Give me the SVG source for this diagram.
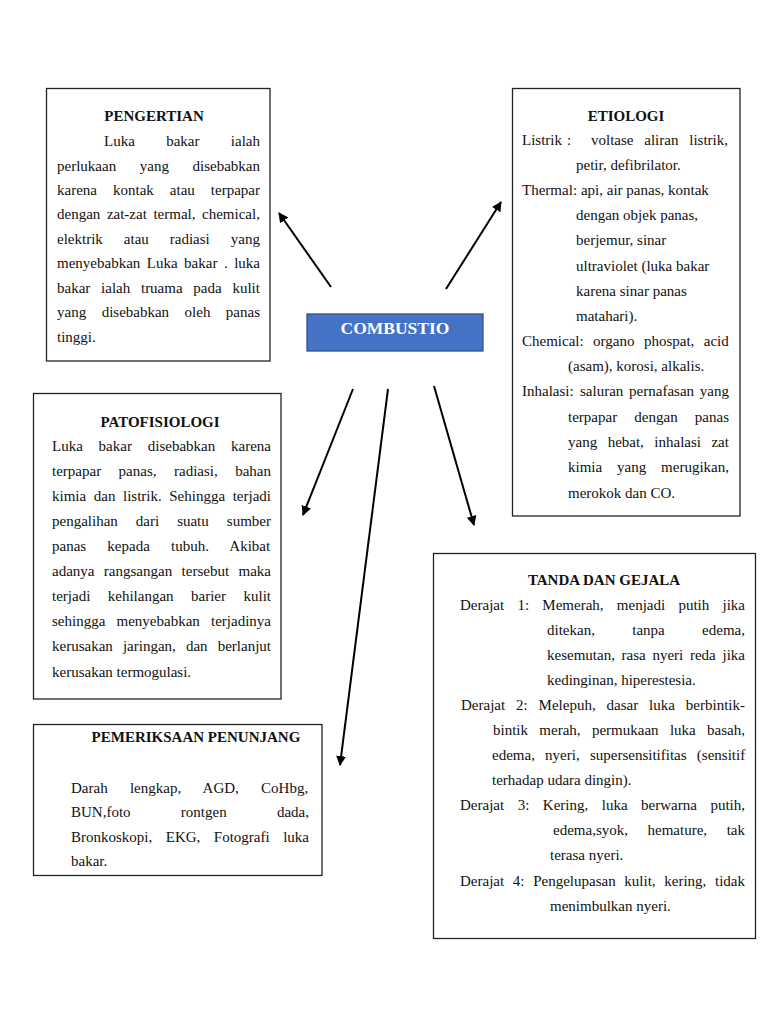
<svg xmlns="http://www.w3.org/2000/svg" width="768" height="1024" viewBox="0 0 768 1024">
<style>
.box{fill:#fff;stroke:#222;stroke-width:1.3}
.t{font-family:"Liberation Serif","Times New Roman",serif;font-size:15px;fill:#111}
.h{font-family:"Liberation Serif","Times New Roman",serif;font-size:15px;font-weight:bold;fill:#111;text-anchor:middle}
.c{stroke:#000;stroke-width:2;fill:none;marker-end:url(#ah)}
</style>
<defs>
<marker id="ah" viewBox="0 0 10 10" refX="9" refY="5" markerWidth="5" markerHeight="5" orient="auto" markerUnits="strokeWidth">
<path d="M0,0 L10,5 L0,10 z" fill="#000"/>
</marker>
</defs>
<rect width="768" height="1024" fill="#fff"/>

<g id="connectors">
<line class="c" x1="331" y1="287" x2="279" y2="213"/>
<line class="c" x1="446" y1="289" x2="501" y2="202"/>
<line class="c" x1="353" y1="389" x2="303" y2="515"/>
<line class="c" x1="388" y1="389" x2="340" y2="765"/>
<line class="c" x1="434" y1="386" x2="474" y2="525"/>
</g>

<g id="combustio">
<rect x="307" y="314" width="176" height="37" fill="#4472C4" stroke="#2F528F" stroke-width="1.3"/>
<text x="395" y="334" style="font-family:'Liberation Serif','Times New Roman',serif;font-size:17.5px;font-weight:bold;fill:#fff;text-anchor:middle">COMBUSTIO</text>
</g>

<g id="pengertian">
<rect class="box" x="46.5" y="88.5" width="223.5" height="272.5"/>
<text class="h" x="154" y="121">PENGERTIAN</text>
<text class="t" x="104" y="146" style="word-spacing:27.6px">Luka bakar ialah</text>
<text class="t" x="57" y="171" style="word-spacing:19.85px">perlukaan yang disebabkan</text>
<text class="t" x="57" y="195" style="word-spacing:12.28px">karena kontak atau terpapar</text>
<text class="t" x="57" y="219" style="word-spacing:2.82px">dengan zat-zat termal, chemical,</text>
<text class="t" x="57" y="244" style="word-spacing:17.25px">elektrik atau radiasi yang</text>
<text class="t" x="57" y="268" style="word-spacing:2.75px">menyebabkan Luka bakar . luka</text>
<text class="t" x="57" y="293" style="word-spacing:7px">bakar ialah truama pada kulit</text>
<text class="t" x="57" y="317" style="word-spacing:11.72px">yang disebabkan oleh panas</text>
<text class="t" x="57" y="342">tinggi.</text>
</g>

<g id="etiologi">
<rect class="box" x="512.5" y="88.5" width="227.5" height="427.5"/>
<text class="h" x="626" y="121">ETIOLOGI</text>
<text class="t" y="145"><tspan x="522">Listrik</tspan><tspan x="567">:</tspan><tspan x="591" style="word-spacing:7.05px">voltase aliran listrik,</tspan></text>
<text class="t" x="576" y="170">petir, defibrilator.</text>
<text class="t" y="195"><tspan x="522">Thermal</tspan><tspan x="573">: api, air panas, kontak</tspan></text>
<text class="t" x="576" y="220">dengan objek panas,</text>
<text class="t" x="576" y="245">berjemur, sinar</text>
<text class="t" x="576" y="271">ultraviolet (luka bakar</text>
<text class="t" x="576" y="296">karena sinar panas</text>
<text class="t" x="576" y="321">matahari).</text>
<text class="t" y="346"><tspan x="522">Chemical:</tspan><tspan x="593" style="word-spacing:5.75px">organo phospat, acid</tspan></text>
<text class="t" x="568" y="371">(asam), korosi, alkalis.</text>
<text class="t" y="396"><tspan x="522">Inhalasi:</tspan><tspan x="580" style="word-spacing:2.05px">saluran pernafasan yang</tspan></text>
<text class="t" x="568" y="422" style="word-spacing:13.45px">terpapar dengan panas</text>
<text class="t" x="568" y="447" style="word-spacing:6.72px">yang hebat, inhalasi zat</text>
<text class="t" x="568" y="472" style="word-spacing:11.15px">kimia yang merugikan,</text>
<text class="t" x="568" y="498">merokok dan CO.</text>
</g>

<g id="patofisiologi">
<rect class="box" x="33.5" y="393.5" width="247.5" height="305.5"/>
<text class="h" x="160" y="427">PATOFISIOLOGI</text>
<text class="t" x="52" y="451" style="word-spacing:12.05px">Luka bakar disebabkan karena</text>
<text class="t" x="52" y="476" style="word-spacing:13.72px">terpapar panas, radiasi, bahan</text>
<text class="t" x="52" y="501" style="word-spacing:3.82px">kimia dan listrik. Sehingga terjadi</text>
<text class="t" x="52" y="526" style="word-spacing:14.25px">pengalihan dari suatu sumber</text>
<text class="t" x="52" y="551" style="word-spacing:17.45px">panas kepada tubuh. Akibat</text>
<text class="t" x="52" y="576" style="word-spacing:5.65px">adanya rangsangan tersebut maka</text>
<text class="t" x="52" y="601" style="word-spacing:13.71px">terjadi kehilangan barier kulit</text>
<text class="t" x="52" y="626" style="word-spacing:7.45px">sehingga menyebabkan terjadinya</text>
<text class="t" x="52" y="651" style="word-spacing:6.35px">kerusakan jaringan, dan berlanjut</text>
<text class="t" x="52" y="677">kerusakan termogulasi.</text>
</g>

<g id="pemeriksaan">
<rect class="box" x="33.5" y="724.5" width="288.5" height="151"/>
<text class="h" x="196" y="742">PEMERIKSAAN PENUNJANG</text>
<text class="t" x="71" y="793" style="word-spacing:18.5px">Darah lengkap, AGD, CoHbg,</text>
<text class="t" x="71" y="817" style="word-spacing:46.5px">BUN,foto rontgen dada,</text>
<text class="t" x="71" y="842" style="word-spacing:9.75px">Bronkoskopi, EKG, Fotografi luka</text>
<text class="t" x="71" y="866">bakar.</text>
</g>

<g id="tanda-gejala">
<rect class="box" x="433.5" y="553.5" width="322" height="385"/>
<text class="h" x="604" y="585">TANDA DAN GEJALA</text>
<text class="t" x="460" y="610" style="word-spacing:9.51px">Derajat 1: Memerah, menjadi putih jika</text>
<text class="t" x="547" y="635" style="word-spacing:33.6px">ditekan, tanpa edema,</text>
<text class="t" x="547" y="660" style="word-spacing:2.95px">kesemutan, rasa nyeri reda jika</text>
<text class="t" x="547" y="685">kedinginan, hiperestesia.</text>
<text class="t" x="461" y="710" style="word-spacing:7.15px">Derajat 2: Melepuh, dasar luka berbintik-</text>
<text class="t" x="493" y="735" style="word-spacing:7.6px">bintik merah, permukaan luka basah,</text>
<text class="t" x="492" y="760" style="word-spacing:6.48px">edema, nyeri, supersensitifitas (sensitif</text>
<text class="t" x="492" y="785">terhadap udara dingin).</text>
<text class="t" x="460" y="810" style="word-spacing:9.77px">Derajat 3: Kering, luka berwarna putih,</text>
<text class="t" x="553" y="835" style="word-spacing:15.8px">edema,syok, hemature, tak</text>
<text class="t" x="550" y="860">terasa nyeri.</text>
<text class="t" x="460" y="886" style="word-spacing:4.93px">Derajat 4: Pengelupasan kulit, kering, tidak</text>
<text class="t" x="550" y="911">menimbulkan nyeri.</text>
</g>
</svg>
